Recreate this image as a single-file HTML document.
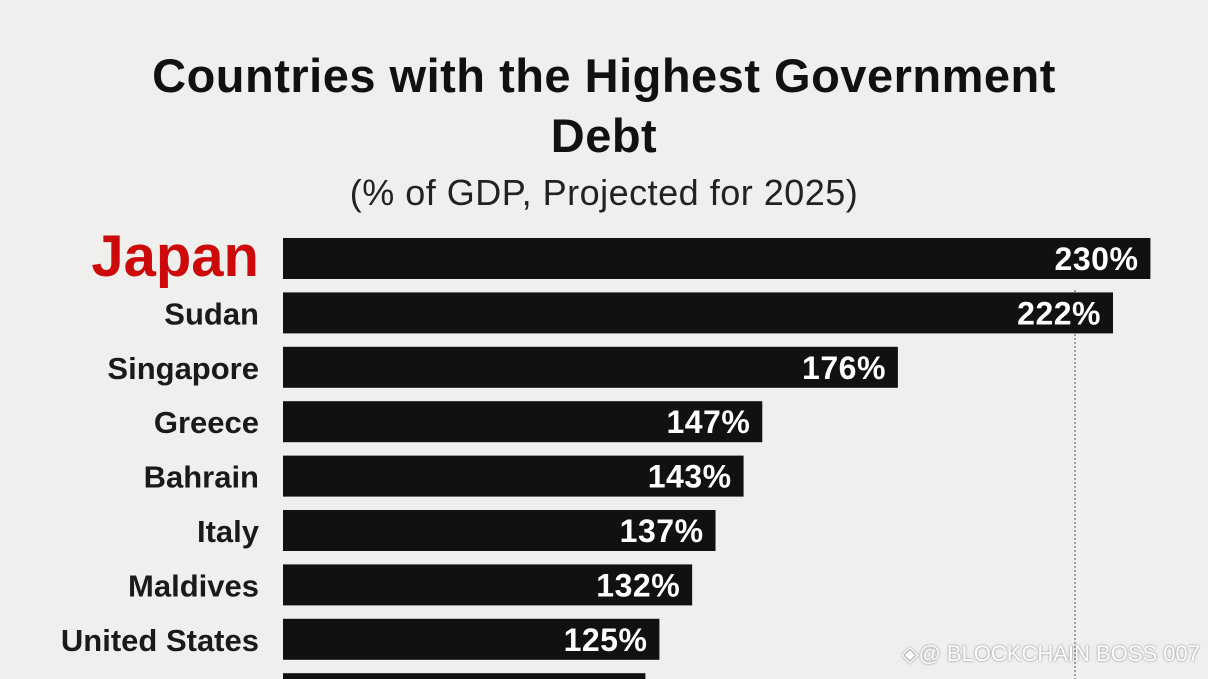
<!DOCTYPE html>
<html><head><meta charset="utf-8"><style>
html,body{margin:0;padding:0;background:#efefee;width:1208px;height:679px;overflow:hidden;font-family:"Liberation Sans",sans-serif;position:relative}
#title{position:absolute;left:0;top:46px;width:1208px;text-align:center;font-weight:bold;font-size:47px;line-height:60px;color:#111;letter-spacing:0.5px}
#sub{position:absolute;left:0;top:172px;width:1208px;text-align:center;font-size:36px;color:#222;letter-spacing:0.5px}
#wm{position:absolute;right:8px;top:641px;color:#fff;font-size:22px;text-shadow:0 0 2px #777;white-space:nowrap}
</style></head><body>
<div id="title">Countries with the Highest Government<br>Debt</div>
<div id="sub">(% of GDP, Projected for 2025)</div>
<svg id="chart" width="1208" height="679" style="position:absolute;left:0;top:0"></svg>
<div id="wm">◈@ BLOCKCHAIN BOSS 007</div>
<script>
const categories=["Japan","Sudan","Singapore","Greece","Bahrain","Italy","Maldives","United States","Senegal"];
const values=[230,222,176,147,143,137,132,125,122];
const valueLabels=["230%","222%","176%","147%","143%","137%","132%","125%","120%"];
const NS="http://www.w3.org/2000/svg";
const svg=document.getElementById('chart');
const x0=283, domainMin=44.5, pxPer=4.676;
function xScale(v){return x0+(v-domainMin)*pxPer;}
function yScale(i){return 238+i*54.4;}
const bh=41;
const dl=document.createElementNS(NS,'line');


dl.setAttribute('x1',1075);dl.setAttribute('x2',1075);dl.setAttribute('y1',290);dl.setAttribute('y2',679);
dl.setAttribute('stroke','#555');dl.setAttribute('stroke-dasharray','2,2');dl.setAttribute('stroke-width','1');
svg.appendChild(dl);
categories.forEach((c,i)=>{
  const y=yScale(i), xe=xScale(values[i]);
  const r=document.createElementNS(NS,'rect');
  
  
  r.setAttribute('x',x0);r.setAttribute('y',y);r.setAttribute('width',xe-x0);r.setAttribute('height',bh);r.setAttribute('fill','#111');
  svg.appendChild(r);
  const t=document.createElementNS(NS,'text');
  
  
  t.setAttribute('x',xe-12);t.setAttribute('y',y+32);t.setAttribute('text-anchor','end');
  t.setAttribute('fill','#fff');t.setAttribute('font-weight','bold');t.setAttribute('font-size','32');
  t.setAttribute('letter-spacing','0.5');
  t.textContent=valueLabels[i];svg.appendChild(t);
  const l=document.createElementNS(NS,'text');
  
  
  l.setAttribute('x',259);l.setAttribute('text-anchor','end');l.setAttribute('font-weight','bold');
  if(i===0){l.setAttribute('y',y+38);l.setAttribute('font-size','58');l.setAttribute('fill','#cc0a0a');}
  else{l.setAttribute('y',y+32);l.setAttribute('font-size','31');l.setAttribute('fill','#1a1a1a');}
  l.textContent=c;svg.appendChild(l);
});
</script>
</body></html>
